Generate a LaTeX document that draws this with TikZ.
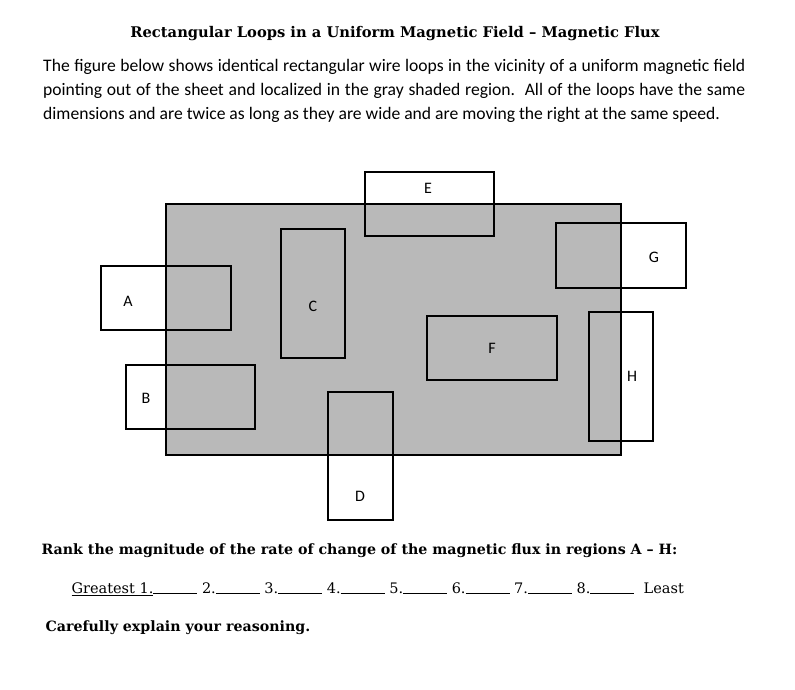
\documentclass[tikz,border=0pt]{standalone}
\usepackage{fontspec}
\setmainfont{DejaVu Serif}
\newfontfamily\bodyf{Carlito}
\tikzset{loop/.style={draw=black,line width=1.6pt,font=\bodyf\fontsize{16}{18}\selectfont},
lbl/.style={font=\bodyf\fontsize{16}{18}\selectfont},
ser/.style={font=\fontsize{14.2}{16}\selectfont\bfseries,anchor=west}}
\newcommand{\blank}{\rule{44pt}{0.5pt}}
\begin{document}
\begin{tikzpicture}[x=1pt,y=-1pt]
\useasboundingbox (0,0) rectangle (795,689);
\node[font=\fontsize{14.7}{16}\selectfont\bfseries] (title) at (395,34) {Rectangular Loops in a Uniform Magnetic Field -- Magnetic Flux};
\node[anchor=north west,inner sep=0,text width=702pt,align=justify,font=\bodyf\fontsize{17.6}{24}\selectfont] (para) at (43,59) {The figure below shows identical rectangular wire loops in the vicinity of a uniform magnetic field pointing out of the sheet and localized in the gray shaded region.\ \ All of the loops have the same dimensions and are twice as long as they are wide and are moving the right at the same speed.};
\fill[gray!55!white,draw=black,line width=1.6pt] (166,204) rectangle (621,455);
\node[loop,minimum width=129pt,minimum height=64pt] (E) at (429.5,204) {};
\node[lbl] (El) at (428,188) {E};
\node[loop,minimum width=130pt,minimum height=65pt] (G) at (621,255.5) {};
\node[lbl] (Gl) at (654,257) {G};
\node[loop,minimum width=130pt,minimum height=64pt] (A) at (166,298) {};
\node[lbl] (Al) at (128,301) {A};
\node[loop,minimum width=64pt,minimum height=129pt] (C) at (313,293.5) {};
\node[lbl] (Cl) at (313,306) {C};
\node[loop,minimum width=130pt,minimum height=64pt] (F) at (492,348) {F};
\node[loop,minimum width=64pt,minimum height=129pt] (H) at (621,376.5) {};
\node[lbl] (Hl) at (632,376) {H};
\node[loop,minimum width=129pt,minimum height=64pt] (B) at (190.5,397) {};
\node[lbl] (Bl) at (146,398) {B};
\node[loop,minimum width=65pt,minimum height=128pt] (D) at (360.5,456) {};
\node[lbl] (Dl) at (360,496) {D};
\node[ser] (rank) at (38,551) {Rank the magnitude of the rate of change of the magnetic flux in regions A -- H:};
\node[anchor=west,font=\fontsize{14.5}{16}\selectfont] (ranks) at (68,589) {\underline{Greatest 1.}\blank\ 2.\blank\ 3.\blank\ 4.\blank\ 5.\blank\ 6.\blank\ 7.\blank\ 8.\blank\ \ Least};
\node[ser] (care) at (42,628) {Carefully explain your reasoning.};
\end{tikzpicture}
\end{document}
